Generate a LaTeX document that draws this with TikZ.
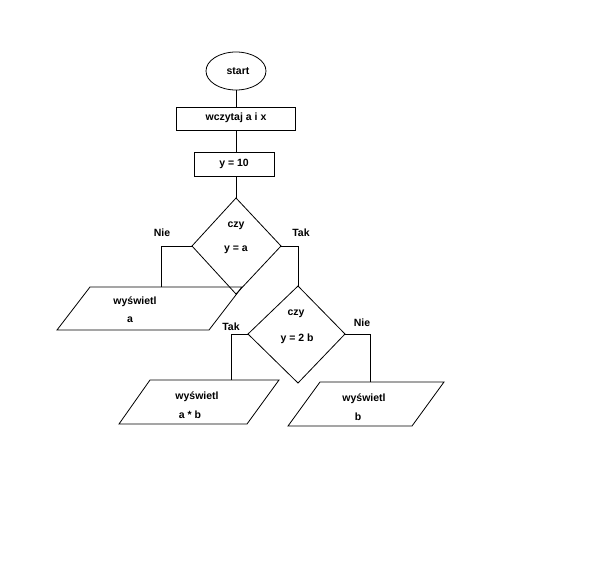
\documentclass[tikz,border=0pt]{standalone}
\usepackage{fontspec}
\setmainfont{Liberation Sans}
\usetikzlibrary{shapes.geometric}
\begin{document}
\begin{tikzpicture}[x=1pt,y=-1pt,line width=0.8pt,
  txt/.style={font=\bfseries\fontsize{10.5}{12}\selectfont,inner sep=0pt}]
\useasboundingbox (0,0) rectangle (600,573);
\fill[white] (0,0) rectangle (600,573);
% start
\draw (236,71) ellipse [x radius=30,y radius=19];
\node[txt] (st) at (238,71) {start};
\coordinate (stb) at (236,90);
% rects
\draw (176,107) rectangle (295,130);
\node[txt] (r1) at (236,118) {wczytaj a i x};
\draw (194,152) rectangle (274,176);
\node[txt] (r2) at (234,164) {y = 10};
\draw (236,90) -- (236,107);
\draw (236,130) -- (236,152);
\draw (236,176) -- (236,198);
% diamond 1
\draw (236,198) -- (281,246) -- (236,294) -- (192,246) -- cycle;
\node[txt] (d1a) at (236,226) {czy};
\node[txt] (d1b) at (236,250) {y = a};
\draw (192,246) -- (161,246) -- (161,287);
\node[txt] (n1) at (162,233) {Nie};
\draw (281,246) -- (298,246) -- (298,286);
\node[txt] (t1) at (301,233) {Tak};
% para 1
\draw (90,287) -- (242,287) -- (209,330) -- (57,330) -- cycle;
\node[txt] (p1a) at (135,302) {wyświetl};
\node[txt] (p1b) at (130,320) {a};
% diamond 2
\draw (298,286) -- (345,334) -- (298,383) -- (248,334) -- cycle;
\node[txt] (d2a) at (296,314) {czy};
\node[txt] (d2b) at (297,339) {y = 2 b};
\draw (248,334) -- (231,334) -- (231,380);
\node[txt] (t2) at (231,327) {Tak};
\draw (345,334) -- (370,334) -- (370,382);
\node[txt] (n2) at (362,323) {Nie};
% para 2
\draw (150,380) -- (279,380) -- (247,424) -- (119,424) -- cycle;
\node[txt] (p2a) at (197,397) {wyświetl};
\node[txt] (p2b) at (190,415) {a * b};
% para 3
\draw (320,382) -- (444,382) -- (412,426) -- (288,426) -- cycle;
\node[txt] (p3a) at (364,399) {wyświetl};
\node[txt] (p3b) at (358,417) {b};
\end{tikzpicture}
\end{document}
